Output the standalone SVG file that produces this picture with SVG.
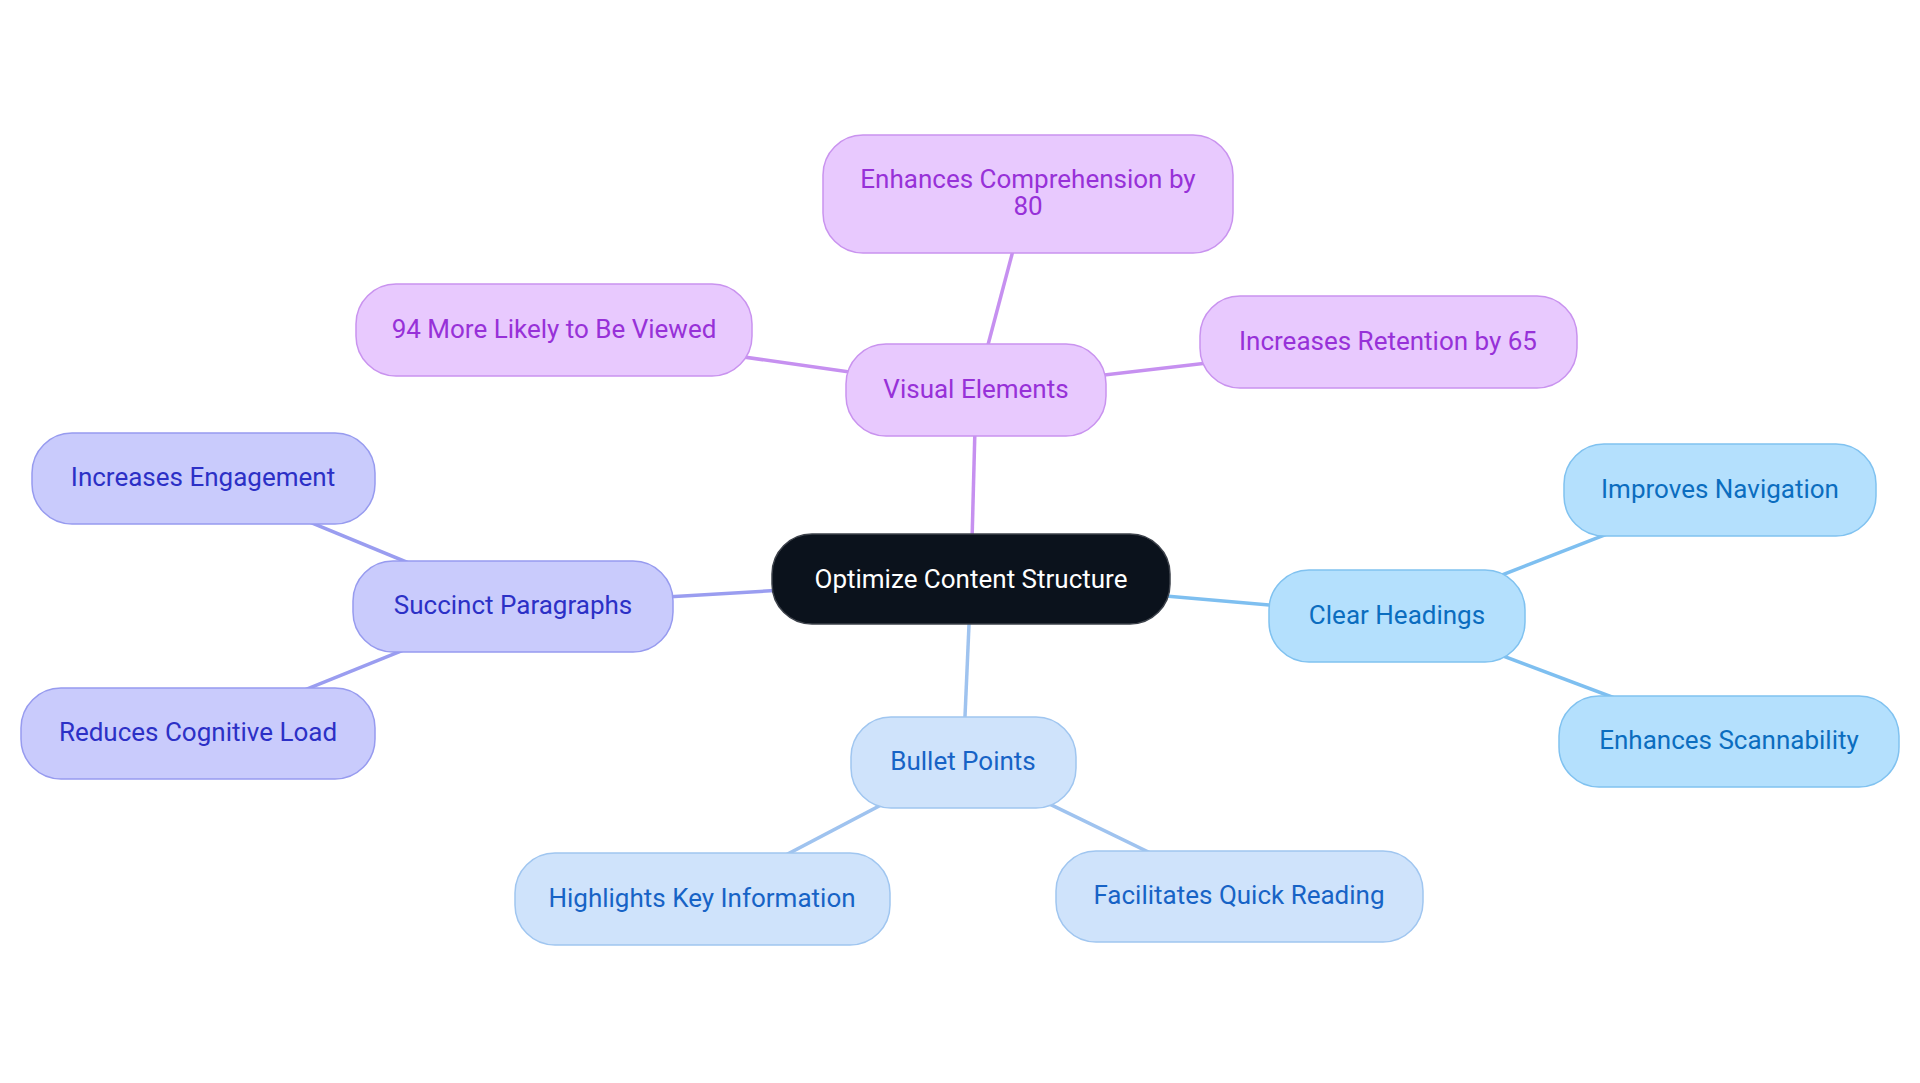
<svg xmlns="http://www.w3.org/2000/svg" width="1920" height="1083" viewBox="0 0 1920 1083">
<style>
text{font-family:Roboto,"Liberation Sans",sans-serif;font-size:26px;text-anchor:middle}
.n rect{stroke-width:1.5}
.c0 rect{fill:#0b121c;stroke:#3c414a}
.c0 text{fill:#ffffff}
.pu rect{fill:#e8c9fe;stroke:#c993ef}
.pu text{fill:#9731d8}
.in rect{fill:#c9cbfc;stroke:#979bef}
.in text{fill:#2c30c6}
.bl rect{fill:#b4e0fd;stroke:#80c2f0}
.bl text{fill:#0b6dbf}
.bu rect{fill:#cfe3fb;stroke:#a0c6f0}
.bu text{fill:#1763c6}
#edges line{stroke-width:3.5}
.e-pu{stroke:#c690f0}
.e-in{stroke:#9a9df0}
.e-bl{stroke:#7ebff0}
.e-bu{stroke:#9fc3ef}
</style>
<rect width="1920" height="1083" fill="#ffffff"/>
<g id="edges">
<line class="e-pu" x1="971" y1="579" x2="976" y2="390"/>
<line class="e-pu" x1="976" y1="390" x2="1028" y2="194"/>
<line class="e-pu" x1="976" y1="390" x2="554" y2="330"/>
<line class="e-pu" x1="976" y1="390" x2="1388" y2="342"/>
<line class="e-in" x1="971" y1="579" x2="513" y2="606"/>
<line class="e-in" x1="513" y1="606" x2="203" y2="478"/>
<line class="e-in" x1="513" y1="606" x2="198" y2="733"/>
<line class="e-bl" x1="971" y1="579" x2="1397" y2="616"/>
<line class="e-bl" x1="1397" y1="616" x2="1720" y2="490"/>
<line class="e-bl" x1="1397" y1="616" x2="1729" y2="741"/>
<line class="e-bu" x1="971" y1="579" x2="963" y2="762"/>
<line class="e-bu" x1="963" y1="762" x2="702" y2="899"/>
<line class="e-bu" x1="963" y1="762" x2="1239" y2="896"/>
</g>
<g id="node-root" class="n c0"><rect x="772" y="534" width="398" height="90" rx="40"/><text x="971" y="588">Optimize Content Structure</text></g>
<g id="node-visual" class="n pu"><rect x="846" y="344" width="260" height="92" rx="40"/><text x="976" y="398">Visual Elements</text></g>
<g id="node-comprehension" class="n pu"><rect x="823" y="135" width="410" height="118" rx="40"/><text x="1028" y="188">Enhances Comprehension by</text><text x="1028" y="215">80</text></g>
<g id="node-viewed" class="n pu"><rect x="356" y="284" width="396" height="92" rx="40"/><text x="554" y="338">94 More Likely to Be Viewed</text></g>
<g id="node-retention" class="n pu"><rect x="1200" y="296" width="377" height="92" rx="40"/><text x="1388" y="350">Increases Retention by 65</text></g>
<g id="node-succinct" class="n in"><rect x="353" y="561" width="320" height="91" rx="40"/><text x="513" y="614">Succinct Paragraphs</text></g>
<g id="node-engagement" class="n in"><rect x="32" y="433" width="343" height="91" rx="40"/><text x="203" y="486">Increases Engagement</text></g>
<g id="node-cognitive" class="n in"><rect x="21" y="688" width="354" height="91" rx="40"/><text x="198" y="741">Reduces Cognitive Load</text></g>
<g id="node-headings" class="n bl"><rect x="1269" y="570" width="256" height="92" rx="40"/><text x="1397" y="624">Clear Headings</text></g>
<g id="node-navigation" class="n bl"><rect x="1564" y="444" width="312" height="92" rx="40"/><text x="1720" y="498">Improves Navigation</text></g>
<g id="node-scannability" class="n bl"><rect x="1559" y="696" width="340" height="91" rx="40"/><text x="1729" y="749">Enhances Scannability</text></g>
<g id="node-bullet" class="n bu"><rect x="851" y="717" width="225" height="91" rx="40"/><text x="963" y="770">Bullet Points</text></g>
<g id="node-highlights" class="n bu"><rect x="515" y="853" width="375" height="92" rx="40"/><text x="702" y="907">Highlights Key Information</text></g>
<g id="node-quick" class="n bu"><rect x="1056" y="851" width="367" height="91" rx="40"/><text x="1239" y="904">Facilitates Quick Reading</text></g>
</svg>
